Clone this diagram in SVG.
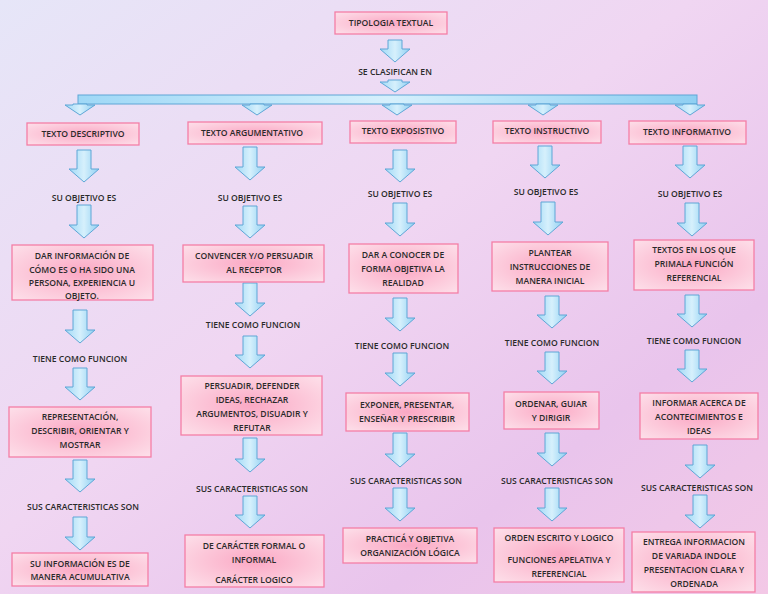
<svg xmlns="http://www.w3.org/2000/svg" width="768" height="594" viewBox="0 0 768 594">
<defs>
<linearGradient id="bg" x1="0" y1="0" x2="1" y2="1">
<stop offset="0" stop-color="#e6e6f8"/><stop offset="0.45" stop-color="#f0d6f2"/><stop offset="0.75" stop-color="#e9c4ec"/><stop offset="1" stop-color="#f3c8e6"/>
</linearGradient>
<radialGradient id="bx" cx="0.5" cy="0.5" r="0.7">
<stop offset="0" stop-color="#fba8c4"/><stop offset="1" stop-color="#fde0ea"/>
</radialGradient>
<linearGradient id="ar" x1="0" y1="0" x2="1" y2="0">
<stop offset="0" stop-color="#9fd8f6"/><stop offset="0.5" stop-color="#d6f0fc"/><stop offset="1" stop-color="#8fcff2"/>
</linearGradient>
<style>
.b{fill:url(#bx);stroke:#f47ea6;stroke-width:1.3}
.a{fill:url(#ar);stroke:#5ea6d6;stroke-width:1}
text{font-family:"Open Sans","Liberation Sans",sans-serif;font-size:8.6px;font-weight:600;fill:#2a2a2a;text-anchor:middle}
</style>
</defs>
<rect width="768" height="594" fill="url(#bg)"/>
<g id="connectors">
<path class="a" d="M388,40 h14 v9 h8 l-15,13 l-15,-13 h8 z"/>
<path class="a" d="M388,80 h14 v2 h8 l-15,10 l-15,-10 h8 z"/>
<rect class="a" x="78" y="95" width="619" height="9"/>
<path class="a" d="M73,104 h14 v1 h8 l-15,10 l-15,-10 h8 z"/>
<path class="a" d="M250,104 h14 v1 h8 l-15,10 l-15,-10 h8 z"/>
<path class="a" d="M390,104 h14 v1 h8 l-15,10 l-15,-10 h8 z"/>
<path class="a" d="M536,104 h14 v1 h8 l-15,10 l-15,-10 h8 z"/>
<path class="a" d="M683,104 h14 v1 h8 l-15,10 l-15,-10 h8 z"/>
<!-- col1 -->
<path class="a" d="M77,150 h14 v19 h8 l-15,13 l-15,-13 h8 z"/>
<path class="a" d="M77,205 h14 v20 h8 l-15,13 l-15,-13 h8 z"/>
<path class="a" d="M73,310 h14 v20 h8 l-15,13 l-15,-13 h8 z"/>
<path class="a" d="M73,368 h14 v19 h8 l-15,13 l-15,-13 h8 z"/>
<path class="a" d="M73,460 h14 v19 h8 l-15,13 l-15,-13 h8 z"/>
<path class="a" d="M73,517 h14 v20 h8 l-15,13 l-15,-13 h8 z"/>
<!-- col2 -->
<path class="a" d="M243,147 h14 v20 h8 l-15,13 l-15,-13 h8 z"/>
<path class="a" d="M243,206 h14 v19 h8 l-15,13 l-15,-13 h8 z"/>
<path class="a" d="M243,283 h14 v20 h8 l-15,13 l-15,-13 h8 z"/>
<path class="a" d="M243,336 h14 v19 h8 l-15,13 l-15,-13 h8 z"/>
<path class="a" d="M243,438 h14 v21 h8 l-15,13 l-15,-13 h8 z"/>
<path class="a" d="M243,496 h14 v19 h8 l-15,13 l-15,-13 h8 z"/>
<!-- col3 -->
<path class="a" d="M393,150 h14 v19 h8 l-15,13 l-15,-13 h8 z"/>
<path class="a" d="M393,203 h14 v20 h8 l-15,13 l-15,-13 h8 z"/>
<path class="a" d="M393,298 h14 v20 h8 l-15,13 l-15,-13 h8 z"/>
<path class="a" d="M393,353 h14 v20 h8 l-15,13 l-15,-13 h8 z"/>
<path class="a" d="M393,433 h14 v21 h8 l-15,13 l-15,-13 h8 z"/>
<path class="a" d="M393,488 h14 v20 h8 l-15,13 l-15,-13 h8 z"/>
<!-- col4 -->
<path class="a" d="M538,146 h14 v19 h8 l-15,13 l-15,-13 h8 z"/>
<path class="a" d="M541,202 h14 v20 h8 l-15,13 l-15,-13 h8 z"/>
<path class="a" d="M545,296 h14 v19 h8 l-15,13 l-15,-13 h8 z"/>
<path class="a" d="M545,352 h14 v19 h8 l-15,13 l-15,-13 h8 z"/>
<path class="a" d="M545,433 h14 v20 h8 l-15,13 l-15,-13 h8 z"/>
<path class="a" d="M545,488 h14 v20 h8 l-15,13 l-15,-13 h8 z"/>
<!-- col5 -->
<path class="a" d="M683,146 h14 v19 h8 l-15,13 l-15,-13 h8 z"/>
<path class="a" d="M685,203 h14 v20 h8 l-15,13 l-15,-13 h8 z"/>
<path class="a" d="M685,295 h14 v19 h8 l-15,13 l-15,-13 h8 z"/>
<path class="a" d="M685,350 h14 v19 h8 l-15,13 l-15,-13 h8 z"/>
<path class="a" d="M693,445 h14 v20 h8 l-15,13 l-15,-13 h8 z"/>
<path class="a" d="M693,495 h14 v20 h8 l-15,13 l-15,-13 h8 z"/>
</g>
<g id="root"><rect class="b" x="335" y="12" width="112" height="22"/><text x="391" y="26">TIPOLOGIA TEXTUAL</text></g>
<g id="l0"><text x="395" y="75">SE CLASIFICAN EN</text></g>
<!-- column 1 -->
<g id="c1h"><rect class="b" x="27" y="123" width="112" height="22"/><text x="83" y="137">TEXTO DESCRIPTIVO</text></g>
<g id="c1l1"><text x="84" y="201">SU OBJETIVO ES</text></g>
<g id="c1b1"><rect class="b" x="12" y="245" width="141" height="55"/><text x="82" y="259">DAR INFORMACIÓN DE</text><text x="82" y="273">CÓMO ES O HA SIDO UNA</text><text x="82" y="286">PERSONA, EXPERIENCIA U</text><text x="82" y="299">OBJETO.</text></g>
<g id="c1l2"><text x="80" y="362">TIENE COMO FUNCION</text></g>
<g id="c1b2"><rect class="b" x="9" y="407" width="142" height="50"/><text x="80" y="420">REPRESENTACIÓN,</text><text x="80" y="434">DESCRIBIR, ORIENTAR Y</text><text x="80" y="448">MOSTRAR</text></g>
<g id="c1l3"><text x="83" y="510">SUS CARACTERISTICAS SON</text></g>
<g id="c1b3"><rect class="b" x="12" y="553" width="136" height="33"/><text x="80" y="567">SU INFORMACIÓN ES DE</text><text x="80" y="580">MANERA ACUMULATIVA</text></g>
<!-- column 2 -->
<g id="c2h"><rect class="b" x="188" y="122" width="134" height="22"/><text x="252" y="136">TEXTO ARGUMENTATIVO</text></g>
<g id="c2l1"><text x="250" y="201">SU OBJETIVO ES</text></g>
<g id="c2b1"><rect class="b" x="183" y="245" width="141" height="37"/><text x="254" y="259">CONVENCER Y/O PERSUADIR</text><text x="254" y="273">AL RECEPTOR</text></g>
<g id="c2l2"><text x="253" y="328">TIENE COMO FUNCION</text></g>
<g id="c2b2"><rect class="b" x="181" y="376" width="141" height="59"/><text x="252" y="389">PERSUADIR, DEFENDER</text><text x="252" y="403">IDEAS, RECHAZAR</text><text x="252" y="417">ARGUMENTOS, DISUADIR Y</text><text x="252" y="431">REFUTAR</text></g>
<g id="c2l3"><text x="252" y="492">SUS CARACTERISTICAS SON</text></g>
<g id="c2b3"><rect class="b" x="185" y="535" width="139" height="52"/><text x="254" y="549">DE CARÁCTER FORMAL O</text><text x="254" y="563">INFORMAL</text><text x="254" y="583">CARÁCTER LOGICO</text></g>
<!-- column 3 -->
<g id="c3h"><rect class="b" x="350" y="121" width="106" height="22"/><text x="403" y="134">TEXTO EXPOSISTIVO</text></g>
<g id="c3l1"><text x="400" y="197">SU OBJETIVO ES</text></g>
<g id="c3b1"><rect class="b" x="349" y="244" width="109" height="49"/><text x="403" y="258">DAR A CONOCER DE</text><text x="403" y="272">FORMA OBJETIVA LA</text><text x="403" y="286">REALIDAD</text></g>
<g id="c3l2"><text x="402" y="349">TIENE COMO FUNCION</text></g>
<g id="c3b2"><rect class="b" x="346" y="393" width="123" height="38"/><text x="407" y="408">EXPONER, PRESENTAR,</text><text x="407" y="422">ENSEÑAR Y PRESCRIBIR</text></g>
<g id="c3l3"><text x="406" y="484">SUS CARACTERISTICAS SON</text></g>
<g id="c3b3"><rect class="b" x="343" y="528" width="134" height="35"/><text x="410" y="542">PRACTICÁ Y OBJETIVA</text><text x="410" y="556">ORGANIZACIÓN LÓGICA</text></g>
<!-- column 4 -->
<g id="c4h"><rect class="b" x="493" y="121" width="108" height="22"/><text x="547" y="134">TEXTO INSTRUCTIVO</text></g>
<g id="c4l1"><text x="546" y="195">SU OBJETIVO ES</text></g>
<g id="c4b1"><rect class="b" x="492" y="242" width="116" height="49"/><text x="550" y="256">PLANTEAR</text><text x="550" y="270">INSTRUCCIONES DE</text><text x="550" y="284">MANERA INICIAL</text></g>
<g id="c4l2"><text x="552" y="346">TIENE COMO FUNCION</text></g>
<g id="c4b2"><rect class="b" x="504" y="392" width="95" height="37"/><text x="551" y="407">ORDENAR, GUIAR</text><text x="551" y="421">Y DIRIGIR</text></g>
<g id="c4l3"><text x="557" y="484">SUS CARACTERISTICAS SON</text></g>
<g id="c4b3"><rect class="b" x="494" y="528" width="130" height="54"/><text x="559" y="541">ORDEN ESCRITO Y LOGICO</text><text x="559" y="563">FUNCIONES APELATIVA Y</text><text x="559" y="577">REFERENCIAL</text></g>
<!-- column 5 -->
<g id="c5h"><rect class="b" x="629" y="121" width="117" height="23"/><text x="687" y="135">TEXTO INFORMATIVO</text></g>
<g id="c5l1"><text x="690" y="197">SU OBJETIVO ES</text></g>
<g id="c5b1"><rect class="b" x="634" y="240" width="120" height="50"/><text x="694" y="253">TEXTOS EN LOS QUE</text><text x="694" y="267">PRIMALA FUNCIÓN</text><text x="694" y="281">REFERENCIAL</text></g>
<g id="c5l2"><text x="694" y="344">TIENE COMO FUNCION</text></g>
<g id="c5b2"><rect class="b" x="640" y="393" width="118" height="46"/><text x="699" y="406">INFORMAR ACERCA DE</text><text x="699" y="420">ACONTECIMIENTOS E</text><text x="699" y="434">IDEAS</text></g>
<g id="c5l3"><text x="697" y="491">SUS CARACTERISTICAS SON</text></g>
<g id="c5b3"><rect class="b" x="632" y="532" width="123" height="60"/><text x="694" y="545">ENTREGA INFORMACION</text><text x="694" y="559">DE VARIADA INDOLE</text><text x="694" y="573">PRESENTACION CLARA Y</text><text x="694" y="587">ORDENADA</text></g>
</svg>
